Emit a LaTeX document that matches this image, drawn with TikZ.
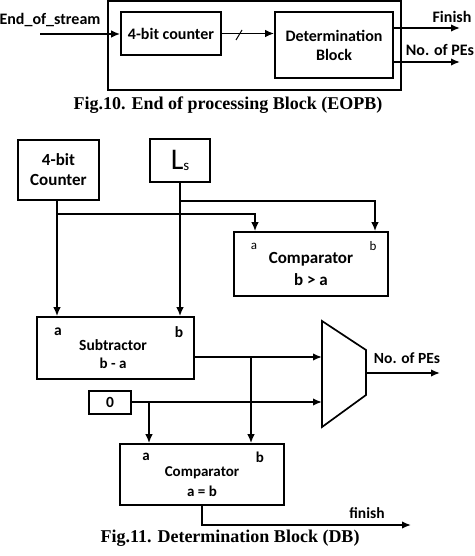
\documentclass[tikz,border=0pt]{standalone}
\usepackage{fontspec}
\setmainfont{Liberation Serif}
\newfontfamily\blockfont{Carlito}
\usetikzlibrary{arrows,arrows.meta,positioning,calc}

\begin{document}
\begin{tikzpicture}[x=1pt,y=-1pt,line width=1.6pt,
  >={Latex[length=9pt,width=7.5pt]},
  blk/.style={draw, line width=1.7pt, inner sep=0pt, align=center},
  big/.style={font=\blockfont\bfseries\fontsize{16}{19}\selectfont},
  huge/.style={font=\blockfont\bfseries\fontsize{17}{20}\selectfont},
  mid/.style={font=\blockfont\bfseries\fontsize{15.5}{18}\selectfont},
  small/.style={font=\blockfont\bfseries\fontsize{15}{18}\selectfont},
  port/.style={font=\blockfont\fontsize{13}{15}\selectfont, inner sep=0pt},
  figcap/.style={font=\bfseries\fontsize{18}{21}\selectfont}]
  \useasboundingbox (0,0) rectangle (474,556);

  % End of processing block
  \node[blk, minimum width=293pt, minimum height=89pt] (eopb) at (254.5,45.5) {};
  \node[blk, big, minimum width=100pt, minimum height=43pt] (cnt) at (171,33.5) {4-bit counter};
  \node[blk, big, minimum width=118pt, minimum height=66pt] (det) at (334,45) {Determination\\Block};
  \coordinate (eosin) at (40,34);
  \node[big, inner sep=0pt] (eos) at (50,20) {End\_of\_stream};
  \draw[->] (eosin) -- (cnt.west |- eosin);
  \draw[->] (cnt.east) -- (det.west |- cnt.east);
  \draw[line width=1pt] (236,40) -- (242,30);
  \coordinate (finout) at (460,28);
  \coordinate (pesout) at (460,62);
  \draw[->] (det.east |- finout) -- (finout);
  \draw[->] (det.east |- pesout) -- (pesout);
  \node[big, inner sep=0pt] (fin) at (452,17) {Finish};
  \node[big, inner sep=0pt] (pes) at (440,50) {No. of PEs};
  \node[figcap] (cap10) at (228,105) {Fig.10. End of processing Block (EOPB)};

  % Determination block
  \node[blk, huge, minimum width=81pt, minimum height=60pt] (counter) at (58.5,170) {4-bit\\Counter};
  \node[blk, minimum width=60pt, minimum height=43pt] (ls) at (180,160.5)
    {\blockfont\fontsize{30}{32}\selectfont L\raisebox{-1pt}{\fontsize{15}{17}\selectfont s}};
  \node[blk, minimum width=154pt, minimum height=64pt] (cmpgt) at (311,264) {};
  \node[huge, inner sep=0pt] at (311,259) {Comparator};
  \node[huge, inner sep=0pt] at (311,280) {b > a};
  \node[port] at (254,246) {a};
  \node[port] at (373,246) {b};

  \node[blk, minimum width=157pt, minimum height=62pt] (sub) at (115.5,348) {};
  \node[mid, inner sep=0pt] at (113,345) {Subtractor};
  \node[small, inner sep=0pt] at (113,363) {b - a};
  \node[mid, inner sep=0pt] at (58,332) {a};
  \node[mid, inner sep=0pt] at (179,332) {b};

  \node[blk, mid, minimum width=42pt, minimum height=23pt] (zero) at (110,402.5) {0};

  % multiplexer
  \coordinate (m1) at (322,321);
  \coordinate (m2) at (366,350);
  \coordinate (m3) at (366,395);
  \coordinate (m4) at (322,427);
  \draw[line width=1.7pt] (m1) -- (m2) -- (m3) -- (m4) -- cycle;

  \node[blk, minimum width=164pt, minimum height=61pt] (cmpeq) at (202,474.5) {};
  \node[small, inner sep=0pt] at (202,473) {Comparator};
  \node[small, inner sep=0pt] at (202,491) {a = b};
  \node[small, inner sep=0pt] at (146,457) {a};
  \node[small, inner sep=0pt] at (260,457) {b};

  % connections
  \coordinate (cntx) at (57,214);
  \coordinate (lsx) at (180,201);
  \draw[->] (counter.south -| cntx) -- (cntx |- sub.north);
  \draw[->] (ls.south) -- (ls.south |- sub.north);
  \draw[->] (cntx) -| (cmpgt.north -| 255,0);
  \draw[->] (lsx) -| (cmpgt.north -| 375,0);

  \coordinate (subout) at (194,357);
  \coordinate (zout) at (131,402);
  \draw[->] (subout) -- (subout -| m1);
  \draw[->] (zout) -- (zout -| m1);
  \draw[->] (subout -| 251,0) -- (cmpeq.north -| 251,0);
  \draw[->] (zout -| 149,0) -- (cmpeq.north -| 149,0);

  \coordinate (pes2) at (440,373);
  \draw[->] (pes2 -| m2) -- (pes2);
  \node[mid, inner sep=0pt] at (407,358) {No. of PEs};

  \coordinate (finish) at (411,525);
  \draw[->] (cmpeq.south) |- (finish);
  \node[mid, inner sep=0pt] at (367,513) {finish};

  \node[figcap] (cap11) at (230,538) {Fig.11. Determination Block (DB)};
\end{tikzpicture}
\end{document}
